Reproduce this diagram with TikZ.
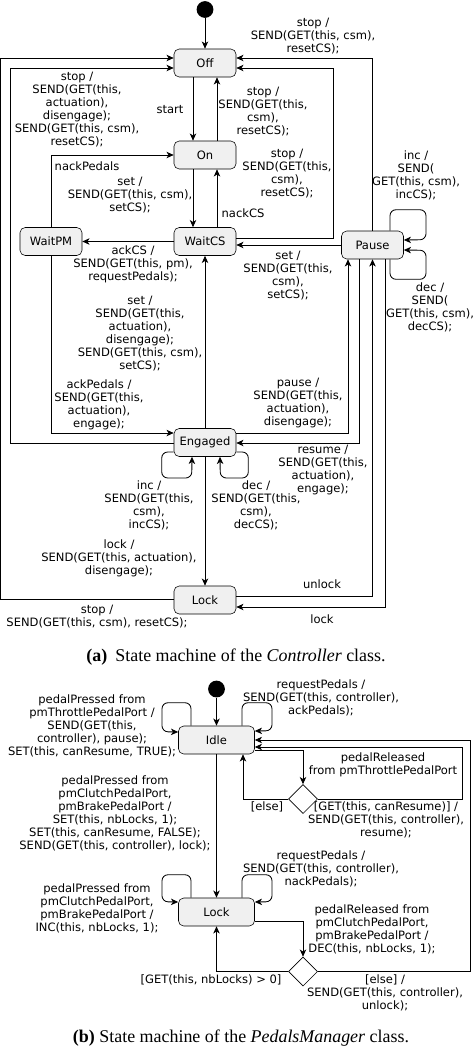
\documentclass[tikz,border=0pt]{standalone}
\usepackage{fontspec}
\setmainfont{DejaVu Sans}
\newfontfamily\capfont{Liberation Serif}
\usetikzlibrary{arrows.meta,calc,positioning,shapes.geometric}

\begin{document}
\begin{tikzpicture}[x=0.25mm,y=-0.25mm,
  font=\fontsize{8.2}{9.25}\selectfont,
  stbox/.style={draw,rounded corners=1.3mm,fill=gray!12,minimum width=15.5mm,minimum height=7mm,inner sep=0pt},
  choice/.style={draw,diamond,minimum width=7.25mm,minimum height=7.25mm,inner sep=0pt},
  initdot/.style={circle,fill=black,minimum size=4.2mm,inner sep=0pt},
  trans/.style={-{Stealth[length=1.8mm,width=1.6mm,inset=0.5mm]},line width=0.6pt},
  loopy/.style={trans,rounded corners=1.5mm},
  lbl/.style={align=center,inner sep=0pt},
  capt/.style={font=\capfont\fontsize{12.75}{15}\selectfont}]
\useasboundingbox (0,0) rectangle (474,1049);

% Controller states
\node[initdot] (startC) at (205,9.5) {};
\node[stbox] (Off) at (205,63) {Off};
\node[stbox] (On) at (205,155) {On};
\node[stbox] (WaitCS) at (205,241.5) {WaitCS};
\node[stbox] (WaitPM) at (51,241.5) {WaitPM};
\node[stbox] (Pause) at (372.5,245) {Pause};
\node[stbox] (Engaged) at (205,442.5) {Engaged};
\node[stbox] (LockC) at (205,600) {Lock};

% Controller transitions
\draw[trans] (startC) -- (Off);
\draw[trans] ($(Off.south)+(-12,0)$) -- ($(On.north)+(-12,0)$);
\draw[trans] ($(On.north)+(12,0)$) -- ($(Off.south)+(12,0)$);
\draw[trans] ($(On.south)+(-12,0)$) -- ($(WaitCS.north)+(-12,0)$);
\draw[trans] ($(WaitCS.north)+(12,0)$) -- ($(On.south)+(12,0)$);
\draw[trans] ($(WaitCS.east)+(0,-3.5)$) -- ++(97,0) |- ($(Off.east)+(0,5)$);
\draw[trans] (Pause.north) |- ($(Off.east)+(0,-5)$);
\draw[trans] ($(Engaged.west)+(0,0.5)$) -- ++(-163,0) |- ($(Off.west)+(0,5)$);
\draw[trans] ($(LockC.west)+(0,-1)$) -- ++(-173,0) |- ($(Off.west)+(0,-5)$);
\draw[trans] (WaitPM.north) |- (On.west);
\draw[trans] (WaitCS.west) -- (WaitPM.east);
\draw[trans] (Pause.west) -- (Pause.west -| WaitCS.east);
\draw[trans] (Engaged.north) -- (WaitCS.south);
\draw[trans] (WaitPM.south) |- ($(Engaged.west)+(0,-9.5)$);
\draw[trans] ($(Engaged.east)+(0,-9.5)$) -| ($(Pause.south)+(-24.5,0)$);
\draw[trans] ($(Pause.south)+(-13.5,0)$) |- ($(Engaged.east)+(0,0.5)$);
\draw[trans] (Engaged.south) -- (LockC.north);
\draw[trans] ($(LockC.east)+(0,-4)$) -| (Pause.south);
\draw[trans] ($(Pause.south)+(12.5,0)$) |- ($(LockC.east)+(0,7)$);
\draw[loopy] ($(Engaged.west)+(0,9.5)$) -- ++(-12,0) -- ++(0,26) -- ++(30,0) -- ($(Engaged.south)+(-13,0)$);
\draw[loopy] ($(Engaged.east)+(0,9.5)$) -- ++(12,0) -- ++(0,26) -- ++(-28,0) -- ($(Engaged.south)+(15,0)$);
\draw[loopy] ($(Pause.north)+(17.5,0)$) -- ++(0,-21) -- ++(36,0) -- ++(0,30) -- ($(Pause.east)+(0,-5)$);
\draw[loopy] ($(Pause.south)+(17.5,0)$) -- ++(0,20) -- ++(36,0) -- ++(0,-29) -- ($(Pause.east)+(0,5)$);

% Controller labels
\node[lbl] (lStart) at (170,110) {start};
\node[lbl] (lStopOn) at (263,111.5) {stop /\\SEND(GET(this,\\csm),\\resetCS);};
\node[lbl] (lStopWCS) at (287,173.5) {stop /\\SEND(GET(this,\\csm),\\resetCS);};
\node[lbl] (lStopPause) at (313,36) {stop /\\SEND(GET(this, csm),\\resetCS);};
\node[lbl] (lStopEng) at (77,109.5) {stop /\\SEND(GET(this,\\actuation),\\disengage);\\SEND(GET(this, csm),\\resetCS);};
\node[lbl] (lStopLock) at (97,617) {stop /\\SEND(GET(this, csm), resetCS);};
\node[lbl] (lSetOn) at (130,195) {set /\\SEND(GET(this, csm),\\setCS);};
\node[lbl] (lNackCS) at (243,213) {nackCS};
\node[lbl] (lNackPed) at (87,166) {nackPedals};
\node[lbl] (lAckCS) at (133,264) {ackCS /\\SEND(GET(this, pm),\\requestPedals);};
\node[lbl] (lSetPause) at (288,275.5) {set /\\SEND(GET(this,\\csm),\\setCS);};
\node[lbl] (lSetEng) at (140,333.5) {set /\\SEND(GET(this,\\actuation),\\disengage);\\SEND(GET(this, csm),\\setCS);};
\node[lbl] (lAckPed) at (99,405) {ackPedals /\\SEND(GET(this,\\actuation),\\engage);};
\node[lbl] (lPause) at (298,403) {pause /\\SEND(GET(this,\\actuation),\\disengage);};
\node[lbl] (lResume) at (323,470) {resume /\\SEND(GET(this,\\actuation),\\engage);};
\node[lbl] (lIncEng) at (149,505) {inc /\\SEND(GET(this,\\csm),\\incCS);};
\node[lbl] (lDecEng) at (256,505) {dec /\\SEND(GET(this,\\csm),\\decCS);};
\node[lbl] (lLock) at (119,558.5) {lock /\\SEND(GET(this, actuation),\\disengage);};
\node[lbl] (lUnlock) at (322,584) {unlock};
\node[lbl] (lLockPause) at (322,619) {lock};
\node[lbl] (lIncPause) at (416,175.5) {inc /\\SEND(\\GET(this, csm),\\incCS);};
\node[lbl] (lDecPause) at (430,307) {dec /\\SEND(\\GET(this, csm),\\decCS);};
\node[capt] (capA) at (236,657) {\textbf{(a)}\hspace{0.45em}State machine of the \textit{Controller} class.};

% PedalsManager states
\node[initdot] (startP) at (216.5,689) {};
\node[stbox,minimum width=19mm] (Idle) at (216.5,740) {Idle};
\node[choice] (ch1) at (303,799) {};
\node[stbox,minimum width=19mm] (LockP) at (216.5,912) {Lock};
\node[choice] (ch2) at (303,971.5) {};

% PedalsManager transitions
\draw[trans] (startP) -- (Idle);
\draw[loopy] ($(Idle.north)+(-25.5,0)$) -- ++(0,-23) -- ++(-29,0) -- ++(0,29) -- ($(Idle.west)+(0,-8)$);
\draw[loopy] ($(Idle.north)+(25.5,0)$) -- ++(0,-23) -- ++(30,0) -- ++(0,28) -- ($(Idle.east)+(0,-9)$);
\draw[trans] ($(Idle.east)+(0,10)$) -| (ch1.north);
\draw[trans] (ch1.west) -| ($(Idle.south)+(26.5,0)$);
\draw[trans] (ch1.east) -- ++(144.5,0) |- ($(Idle.east)+(0,7)$);
\draw[trans] (ch2.east) -- ++(152.5,0) |- (Idle.east);
\draw[trans] (Idle.south) -- (LockP.north);
\draw[loopy] ($(LockP.north)+(-25.5,0)$) -- ++(0,-23) -- ++(-29,0) -- ++(0,27) -- ($(LockP.west)+(0,-10)$);
\draw[loopy] ($(LockP.north)+(25.5,0)$) -- ++(0,-23) -- ++(30,0) -- ++(0,27) -- ($(LockP.east)+(0,-10)$);
\draw[trans] ($(LockP.east)+(0,9)$) -| (ch2.north);
\draw[trans] (ch2.west) -| (LockP.south);

% PedalsManager labels
\node[lbl] (lPressT) at (92,726) {pedalPressed from\\pmThrottlePedalPort /\\SEND(GET(this,\\controller), pause);\\SET(this, canResume, TRUE);};
\node[lbl] (lReqAck) at (321,698) {requestPedals /\\SEND(GET(this, controller),\\ackPedals);};
\node[lbl] (lRelT) at (383,765) {pedalReleased\\from pmThrottlePedalPort};
\node[lbl] (lElse1) at (267,807) {[else]};
\node[lbl] (lResumeP) at (386,820) {[GET(this, canResume)] /\\SEND(GET(this, controller),\\resume);};
\node[lbl] (lPressCB) at (115,813.5) {pedalPressed from\\pmClutchPedalPort,\\pmBrakePedalPort /\\SET(this, nbLocks, 1);\\SET(this, canResume, FALSE);\\SEND(GET(this, controller), lock);};
\node[lbl] (lReqNack) at (321,869) {requestPedals /\\SEND(GET(this, controller),\\nackPedals);};
\node[lbl] (lPressInc) at (97,908) {pedalPressed from\\pmClutchPedalPort,\\pmBrakePedalPort /\\INC(this, nbLocks, 1);};
\node[lbl] (lRelCB) at (372,929.5) {pedalReleased from\\pmClutchPedalPort,\\pmBrakePedalPort /\\DEC(this, nbLocks, 1);};
\node[lbl] (lGuard) at (211,980) {[GET(this, nbLocks) > 0]};
\node[lbl] (lUnlockP) at (385,993) {[else] /\\SEND(GET(this, controller),\\unlock);};
\node[capt] (capB) at (241,1038) {\textbf{(b)} State machine of the \textit{PedalsManager} class.};
\end{tikzpicture}
\end{document}
